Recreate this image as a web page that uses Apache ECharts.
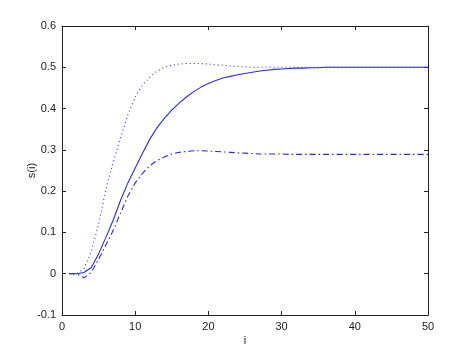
<!DOCTYPE html>
<html>
<head>
<meta charset="utf-8">
<script src="https://cdn.jsdelivr.net/npm/echarts@6/dist/echarts.min.js"></script>
<style>
html,body{margin:0;padding:0;background:#fff;}
#c{width:474px;height:356px;}
</style>
</head>
<body>
<div id="c"></div>
<script>
// Data
var idx = [1,2,3,4,5,6,7,8,9,10,11,12,13,14,15,16,17,18,19,20,21,22,23,24,25,26,27,28,29,30,31,32,33,34,35,36,37,38,39,40,41,42,43,44,45,46,47,48,49,50];
var solid = [0,0,0.003,0.015,0.048,0.088,0.13,0.178,0.22,0.256,0.292,0.326,0.354,0.377,0.396,0.413,0.428,0.441,0.452,0.461,0.468,0.474,0.478,0.482,0.485,0.488,0.491,0.493,0.495,0.496,0.497,0.498,0.498,0.499,0.499,0.5,0.5,0.5,0.5,0.5,0.5,0.5,0.5,0.5,0.5,0.5,0.5,0.5,0.5,0.5];
var dotted = [0,0,0.012,0.054,0.12,0.205,0.27,0.33,0.385,0.428,0.457,0.476,0.491,0.5,0.505,0.508,0.509,0.509,0.509,0.508,0.506,0.505,0.503,0.502,0.501,0.5,0.5,0.5,0.5,0.5,0.5,0.5,0.5,0.5,0.5,0.5,0.5,0.5,0.5,0.5,0.5,0.5,0.5,0.5,0.5,0.5,0.5,0.5,0.5,0.5];
var dashdot = [0,0,-0.01,0.003,0.035,0.07,0.105,0.147,0.188,0.22,0.243,0.262,0.274,0.283,0.29,0.294,0.296,0.298,0.298,0.297,0.296,0.295,0.294,0.293,0.292,0.291,0.29,0.29,0.29,0.29,0.289,0.289,0.289,0.289,0.289,0.289,0.289,0.289,0.289,0.289,0.289,0.289,0.289,0.289,0.289,0.289,0.289,0.289,0.289,0.289];
var xTicks = [0,10,20,30,40,50];
var yTicks = [-0.1,0,0.1,0.2,0.3,0.4,0.5,0.6];

function pairs(vals){ return vals.map(function(v,k){ return [idx[k], v]; }); }

var font = 'Liberation Sans, Arial, sans-serif';
var txt = '#1a1a1a';
var blue = '#2a2ae0';
var chart = echarts.init(document.getElementById('c'), null, {renderer:'canvas'});
var axLine = {show:true, onZero:false, lineStyle:{color:'#222', width:1}};
var tick = {show:true, inside:true, length:4, lineStyle:{color:'#222'}};
chart.setOption({
  animation:false,
  backgroundColor:'#fff',
  grid:{left:62, right:46, top:26, bottom:41, containLabel:false},
  xAxis:[
    {type:'value', min:0, max:50, interval:10, position:'bottom',
     axisLine:axLine, axisTick:tick, splitLine:{show:false},
     axisLabel:{color:txt, fontFamily:font, fontSize:11, margin:6},
     name:'i', nameLocation:'middle', nameGap:20, nameMoveOverlap:false,
     nameTextStyle:{color:txt, fontFamily:font, fontSize:11}},
    {type:'value', min:0, max:50, interval:10, position:'top',
     axisLine:axLine, axisTick:tick, splitLine:{show:false}, axisLabel:{show:false}}
  ],
  yAxis:[
    {type:'value', min:-0.1, max:0.6, interval:0.1, position:'left',
     axisLine:axLine, axisTick:tick, splitLine:{show:false},
     axisLabel:{color:txt, fontFamily:font, fontSize:11, margin:6,
       formatter:function(v){ var r=Math.round(v*10)/10; return r===0?'0':String(r); }},
     name:'s(i)', nameLocation:'middle', nameGap:25, nameRotate:90, nameMoveOverlap:false,
     nameTextStyle:{color:txt, fontFamily:font, fontSize:11}},
    {type:'value', min:-0.1, max:0.6, interval:0.1, position:'right',
     axisLine:axLine, axisTick:tick, splitLine:{show:false}, axisLabel:{show:false}}
  ],
  series:[
    {type:'line', data:pairs(solid), showSymbol:false, symbol:'none',
     lineStyle:{color:blue, width:1.1, type:'solid'}},
    {type:'line', data:pairs(dotted), showSymbol:false, symbol:'none',
     lineStyle:{color:blue, width:1.1, type:[1,3]}},
    {type:'line', data:pairs(dashdot), showSymbol:false, symbol:'none',
     lineStyle:{color:blue, width:1.1, type:[6,3,1.5,3]}}
  ]
});
</script>
</body>
</html>
